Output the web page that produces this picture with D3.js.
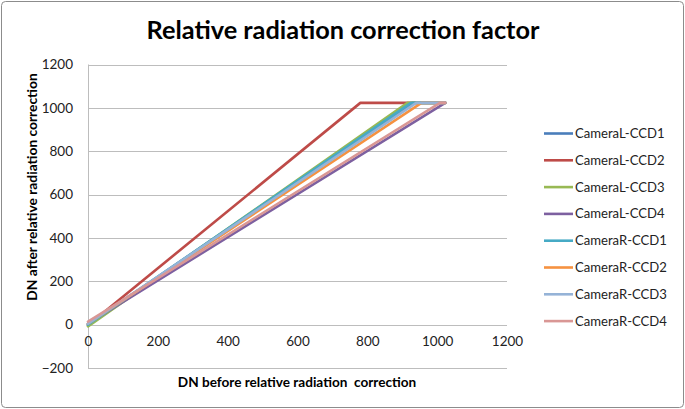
<!DOCTYPE html>
<html><head><meta charset="utf-8">
<script src="https://cdn.jsdelivr.net/npm/d3@7"></script>
<style>
html,body{margin:0;padding:0;background:#fff;}
svg text{font-family:Lato,"Open Sans",sans-serif;}
</style></head>
<body>
<svg id="chart" width="685" height="409"></svg>
<script>
// ---- data ----
const seriesNames = ["CameraL-CCD1","CameraL-CCD2","CameraL-CCD3","CameraL-CCD4","CameraR-CCD1","CameraR-CCD2","CameraR-CCD3","CameraR-CCD4"];
const seriesColors = ["#4A7EBB","#BE4B48","#98B954","#7D60A0","#46AAC5","#F69240","#95B3D7","#D99795"];
// each series: [DN before, DN after] key points (start, saturation, end)
const ccdL1 = [[0,0],[930,1023],[1023,1023]];
const ccdL2 = [[0,-3],[780,1023],[1023,1023]];
const ccdL3 = [[0,-8],[915,1023],[1023,1023]];
const ccdL4 = [[0,5],[1023,1023]];
const ccdR1 = [[0,0],[925,1023],[1023,1023]];
const ccdR2 = [[0,5],[955,1023],[1023,1023]];
const ccdR3 = [[0,5],[940,1023],[1023,1023]];
const ccdR4 = [[0,14],[1008,1023],[1023,1023]];
const seriesValues = [ccdL1,ccdL2,ccdL3,ccdL4,ccdR1,ccdR2,ccdR3,ccdR4];
const xTicks = [0,200,400,600,800,1000,1200];
const yTicks = [-200,0,200,400,600,800,1000,1200];
const titleText = "Relative radiation correction factor";
const xTitle = "DN before relative radiation  correction";
const yTitle = "DN after relative radiation correction";

const svg = d3.select("#chart");
// outer chart border
svg.append("rect").attr("x",1.5).attr("y",1.5).attr("width",682).attr("height",406)
  .attr("rx",4).attr("fill","#fff").attr("stroke","#8c8c8c").attr("stroke-width",1);

const x = d3.scaleLinear().domain([0,1200]).range([88,507]);
const y = d3.scaleLinear().domain([-200,1200]).range([368,64.5]);

// gridlines
svg.append("g").selectAll("line").data(yTicks).join("line")
  .attr("x1",x(0)).attr("x2",x(1200))
  .attr("y1",d=>Math.round(y(d))+0.5).attr("y2",d=>Math.round(y(d))+0.5)
  .attr("stroke","#BDBDBD").attr("stroke-width",1);
// vertical axis line
svg.append("line").attr("x1",x(0)+0.5).attr("x2",x(0)+0.5).attr("y1",y(1200)).attr("y2",y(-200))
  .attr("stroke","#BDBDBD").attr("stroke-width",1);

// y axis labels
const yAxis = svg.append("g").attr("transform",`translate(${x(0)},0)`)
  .call(d3.axisLeft(y).tickValues(yTicks).tickSize(0).tickPadding(15).tickFormat(d3.format("d")));
yAxis.select(".domain").remove();
yAxis.selectAll("text").attr("font-size",13.5).attr("fill","#222").attr("font-family","Lato,'Open Sans',sans-serif");

// x axis labels
const xAxis = svg.append("g").attr("transform",`translate(0,${y(0)})`)
  .call(d3.axisBottom(x).tickValues(xTicks).tickSize(0).tickPadding(12).tickFormat(d3.format("d")));
xAxis.select(".domain").remove();
xAxis.selectAll("text").attr("font-size",13.5).attr("fill","#222").attr("font-family","Lato,'Open Sans',sans-serif");

// lines
const line = d3.line().x(d=>x(d[0])).y(d=>y(d[1]));
svg.append("g").selectAll("path").data(seriesValues).join("path")
  .attr("d",line).attr("fill","none")
  .attr("stroke",(d,i)=>seriesColors[i]).attr("stroke-width",2.6)
  .attr("stroke-linejoin","round").attr("stroke-linecap","round");

// title
svg.append("text").attr("x",343).attr("y",39).attr("text-anchor","middle")
  .attr("font-size",25.3).attr("font-weight","bold").attr("fill","#000").text(titleText);
// axis titles
svg.append("text").attr("x",297).attr("y",387).attr("text-anchor","middle")
  .style("white-space","pre")
  .attr("font-size",13.6).attr("font-weight","bold").attr("fill","#000").text(xTitle);
svg.append("text").attr("transform","translate(37,187) rotate(-90)").attr("text-anchor","middle")
  .attr("font-size",13.8).attr("font-weight","bold").attr("fill","#000").text(yTitle);

// legend
const lg = svg.append("g").selectAll("g").data(seriesNames).join("g")
  .attr("transform",(d,i)=>`translate(544,${133.5+i*26.8})`);
lg.append("line").attr("x1",0).attr("x2",29).attr("y1",0).attr("y2",0)
  .attr("stroke",(d,i)=>seriesColors[i]).attr("stroke-width",2.6);
lg.append("text").attr("x",31).attr("y",4.5).attr("font-size",13.1).attr("fill","#222").text(d=>d);
</script>
</body></html>
